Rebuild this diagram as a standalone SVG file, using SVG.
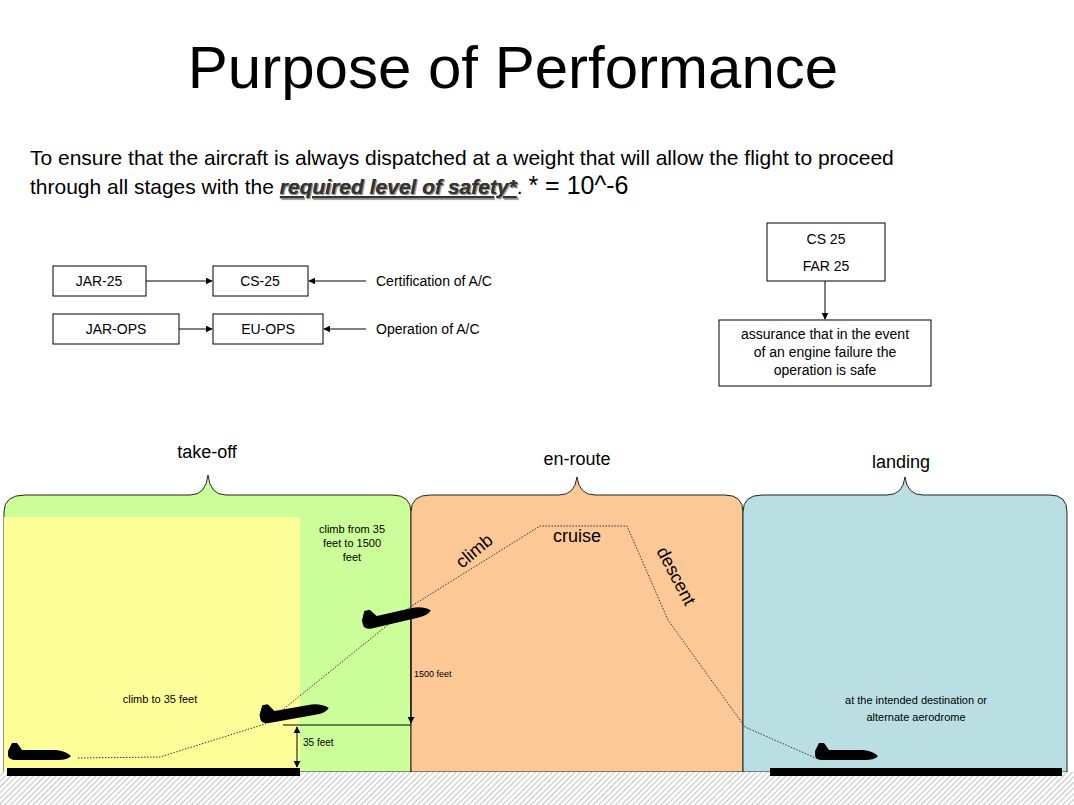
<svg xmlns="http://www.w3.org/2000/svg" width="1074" height="805" viewBox="0 0 1074 805">
<style>
text{font-family:"Liberation Sans",Arial,sans-serif;fill:#000}
.box{fill:#fff;stroke:#000;stroke-width:1}
.bt{font-size:14px;text-anchor:middle}
.ln{stroke:#000;stroke-width:1;fill:none}
.path{stroke:#333;stroke-width:1;fill:none;stroke-dasharray:1.5 1.5}
.s{font-size:11px}
.plane{fill:#000}
</style>
<defs>
<marker id="ah" viewBox="0 0 10 10" refX="9" refY="5" markerWidth="7" markerHeight="7" orient="auto-start-reverse"><path d="M0,0L10,5L0,10z" fill="#000"/></marker>
<pattern id="hatch" width="4" height="4" patternUnits="userSpaceOnUse" patternTransform="rotate(45)"><rect width="4" height="4" fill="#fff"/><line x1="0" y1="0" x2="0" y2="4" stroke="#888" stroke-width="1"/></pattern>
<path id="pl" d="M0,8 L4,0 L9,0 L14,7 L48,7 Q58,8 63,13 Q60,17 50,17 L6,17 Q0,16 0,12 z"/>
</defs>
<rect width="1074" height="805" fill="#fff"/>
<text x="513" y="88" font-size="60" text-anchor="middle">Purpose of Performance</text>
<text x="30" y="165" font-size="21">To ensure that the aircraft is always dispatched at a weight that will allow the flight to proceed</text>
<text x="30" y="194" font-size="21">through all stages with the <tspan font-weight="bold" font-style="italic" text-decoration="underline" fill="#333" style="text-shadow:1px 1px 1px #999">required level of safety*</tspan>.  <tspan font-size="25">* = 10^-6</tspan></text>

<g id="jar25"><rect class="box" x="53" y="266" width="93" height="30"/><text class="bt" x="99" y="286">JAR-25</text></g>
<g id="cs25"><rect class="box" x="213" y="266" width="95" height="30"/><text class="bt" x="260" y="286">CS-25</text></g>
<g id="jarops"><rect class="box" x="53" y="314" width="126" height="30"/><text class="bt" x="116" y="334">JAR-OPS</text></g>
<g id="euops"><rect class="box" x="213" y="314" width="110" height="30"/><text class="bt" x="268" y="334">EU-OPS</text></g>
<g id="cert"><text x="376" y="286" font-size="14">Certification of A/C</text></g>
<g id="oper"><text x="376" y="334" font-size="14">Operation of A/C</text></g>
<g id="csfar"><rect class="box" x="767" y="223" width="118" height="58"/><text class="bt" x="826" y="244">CS 25</text><text class="bt" x="826" y="271">FAR 25</text></g>
<g id="assure"><rect class="box" x="719" y="320" width="212" height="66"/><text class="bt" x="825" y="339">assurance that in the event</text><text class="bt" x="825" y="357">of an engine failure the</text><text class="bt" x="825" y="375">operation is safe</text></g>

<g id="panels">
<path d="M4,772 L4,512 Q4,495 25,495 L190,495 Q206,495 208,475 Q210,495 226,495 L392,495 Q411,495 411,512 L411,772 z" fill="#ccff99" stroke="#222"/>
<path d="M411,772 L411,512 Q411,495 430,495 L559,495 Q575,495 577,477 Q579,495 595,495 L725,495 Q743,495 743,512 L743,772 z" fill="#fcc896" stroke="#222"/>
<path d="M743,772 L743,512 Q743,495 762,495 L887,495 Q903,495 905,477 Q907,495 923,495 L1050,495 Q1067,495 1067,512 L1067,772 z" fill="#b9dfe3" stroke="#222"/>
<rect x="4" y="517" width="296" height="255" fill="#ffff99"/>
<rect x="0" y="772" width="1074" height="33" fill="url(#hatch)"/>
<rect x="7" y="768" width="293" height="8" fill="#000"/>
<rect x="770" y="768" width="292" height="8" fill="#000"/>
</g>
<text x="207" y="458" font-size="18" text-anchor="middle">take-off</text>
<text x="577" y="465" font-size="18" text-anchor="middle">en-route</text>
<text x="901" y="468" font-size="18" text-anchor="middle">landing</text>

<g id="connectors">
<line class="ln" x1="146" y1="281" x2="212" y2="281" marker-end="url(#ah)"/>
<line class="ln" x1="366" y1="281" x2="309" y2="281" marker-end="url(#ah)"/>
<line class="ln" x1="179" y1="329" x2="212" y2="329" marker-end="url(#ah)"/>
<line class="ln" x1="366" y1="329" x2="324" y2="329" marker-end="url(#ah)"/>
<line class="ln" x1="825" y1="281" x2="825" y2="319" marker-end="url(#ah)"/>
<polyline class="path" points="78,758 160,757 265,724 410,607 540,526 627,526 668,620 745,727 820,760"/>
<line class="ln" x1="283" y1="725" x2="411" y2="725"/>
<line class="ln" x1="411" y1="612" x2="411" y2="723" marker-start="url(#ah)" marker-end="url(#ah)"/>
<line class="ln" x1="297" y1="727" x2="297" y2="767" marker-start="url(#ah)" marker-end="url(#ah)"/>
</g>

<g id="planes">
<use href="#pl" transform="translate(8,743)"/>
<use href="#pl" transform="translate(258,706) rotate(-10) scale(1.1)"/>
<use href="#pl" transform="translate(360,612) rotate(-13) scale(1.1)"/>
<use href="#pl" transform="translate(815,743)"/>
</g>

<text class="s" x="352" y="533" text-anchor="middle">climb from 35</text>
<text class="s" x="352" y="547" text-anchor="middle">feet to  1500</text>
<text class="s" x="352" y="561" text-anchor="middle">feet</text>
<text class="s" x="160" y="703" text-anchor="middle">climb to 35 feet</text>
<text x="414" y="677" font-size="9">1500 feet</text>
<text x="303" y="746" font-size="10">35 feet</text>
<text class="s" x="916" y="704" text-anchor="middle">at the intended destination or</text>
<text class="s" x="916" y="721" text-anchor="middle">alternate aerodrome</text>
<text x="0" y="0" font-size="18" transform="translate(462,569) rotate(-40)">climb</text>
<text x="577" y="542" font-size="18" text-anchor="middle">cruise</text>
<text x="0" y="0" font-size="18" transform="translate(656,551) rotate(62)">descent</text>
</svg>
